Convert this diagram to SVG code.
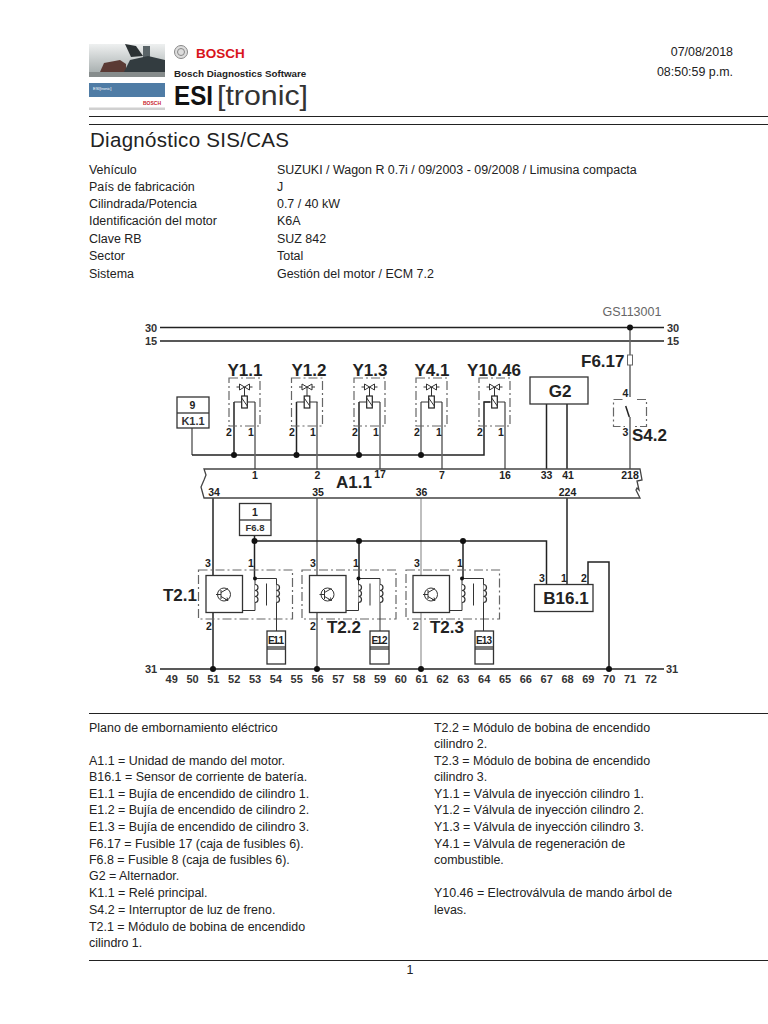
<svg xmlns="http://www.w3.org/2000/svg" xmlns:xlink="http://www.w3.org/1999/xlink" width="768" height="1024" viewBox="0 0 768 1024">
<style>
text{font-family:"Liberation Sans",Arial,sans-serif;fill:#222}
.t{font-size:12.45px}
.pin{font-size:10.5px;font-weight:bold;text-anchor:middle}
.num{font-size:11px;font-weight:bold;text-anchor:middle;fill:#333}
.big{font-size:17px;font-weight:bold;text-anchor:middle}
.w{fill:none;stroke:#222;stroke-width:1.5}
.g{fill:none;stroke:#666;stroke-width:1.5}
.lg{fill:none;stroke:#aaa;stroke-width:1.5}
.box{fill:#fff;stroke:#333;stroke-width:1.3}
.dash{fill:none;stroke:#666;stroke-width:1.2;stroke-dasharray:9 3 2 3}
.thin{fill:none;stroke:#333;stroke-width:1}
.dot{fill:#111}
.rule{stroke:#222;stroke-width:1}
</style>
<defs>
<linearGradient id="sky" x1="0" y1="0" x2="0" y2="1"><stop offset="0" stop-color="#eef0f0"/><stop offset="1" stop-color="#9ea6a6"/></linearGradient>
<g id="valve">
<rect x="-15.500" y="-9" width="31" height="48" class="dash"/>
<path d="M-8 0H-5M5 0H8M-5-3L0 0L-5 3ZM5-3L0 0L5 3ZM0 0V9" class="thin"/>
<rect x="-2.800" y="9" width="5.600" height="12" fill="#fff" stroke="#222" stroke-width="1.200"/>
<path d="M-2.800 11L2.800 19" class="thin"/>
<path d="M-2.800 15H-10.500M2.800 15H10.500" class="thin"/>
</g>
<g id="coil">
<rect x="0" y="0" width="36.500" height="37" class="box"/>
<circle cx="18" cy="19" r="6.500" class="thin"/>
<path d="M15 14.500V23.500M15 19H10M15 17L22 13M15 21L22 25M19 24L22 25L21 22" class="thin"/>
<path d="M36.500 35H49V3M49 3H70.500V55.500" class="thin" stroke-width="1.200"/>
<path d="M49 9a3 3 0 0 1 0 6a3 3 0 0 1 0 6a3 3 0 0 1 0 6M70.500 9a3 3 0 0 1 0 6a3 3 0 0 1 0 6a3 3 0 0 1 0 6" fill="#fff" stroke="#333" stroke-width="1.200"/>
<path d="M60.500 8V30" class="thin"/>
<circle cx="49" cy="3" r="2" class="dot"/>
</g>
</defs>

<g id="header">
<rect x="89" y="44" width="76" height="33" fill="url(#sky)"/>
<path d="M125 44L136 46L143 56L131 57Z" fill="#2c3234"/>
<rect x="143" y="46" width="7" height="26" fill="#5a6468"/>
<path d="M100 72L104 63L120 60L126 64V72Z" fill="#5a3a34"/>
<path d="M124 72L130 60L148 56L165 60V72Z" fill="#333c40"/>
<rect x="89" y="72" width="76" height="5" fill="#868c8c"/>
<rect x="89" y="83" width="76" height="14" fill="#4f7ca5"/>
<text x="93" y="90" font-size="4" style="fill:#fff">ESI[tronic]</text>
<text x="143" y="104.500" font-size="5" font-weight="bold" style="fill:#c8242c">BOSCH</text>
<rect x="89" y="107.500" width="76" height="2.500" fill="#d0d0d0"/>
<circle cx="181" cy="52" r="6.500" fill="#ddd" stroke="#888"/>
<circle cx="181" cy="52" r="3.500" fill="none" stroke="#888"/>
<text x="196" y="58" font-size="13.500" font-weight="bold" style="fill:#d8141c">BOSCH</text>
<text x="174" y="77" font-size="9.800" font-weight="bold">Bosch Diagnostics Software</text>
<text x="174" y="105" font-size="28" font-weight="bold" style="fill:#111" textLength="39" lengthAdjust="spacingAndGlyphs">ESI</text>
<text x="217" y="105" font-size="28" style="fill:#333" textLength="91" lengthAdjust="spacingAndGlyphs">[tronic]</text>
<text x="733" y="56" class="t" text-anchor="end">07/08/2018</text>
<text x="733" y="76" class="t" text-anchor="end">08:50:59 p.m.</text>
<line x1="89" y1="116.500" x2="768" y2="116.500" class="rule"/>
<line x1="89" y1="124.500" x2="768" y2="124.500" class="rule"/>
<text x="90" y="147" font-size="20.500" textLength="199">Diagnóstico SIS/CAS</text>
</g>

<g id="data">
<text x="89" y="174" class="t">Vehículo</text><text x="277" y="174" class="t">SUZUKI / Wagon R 0.7i / 09/2003 - 09/2008 / Limusina compacta</text>
<text x="89" y="191" class="t">País de fabricación</text><text x="277" y="191" class="t">J</text>
<text x="89" y="208" class="t">Cilindrada/Potencia</text><text x="277" y="208" class="t">0.7 / 40 kW</text>
<text x="89" y="225" class="t">Identificación del motor</text><text x="277" y="225" class="t">K6A</text>
<text x="89" y="243" class="t">Clave RB</text><text x="277" y="243" class="t">SUZ 842</text>
<text x="89" y="260" class="t">Sector</text><text x="277" y="260" class="t">Total</text>
<text x="89" y="278" class="t">Sistema</text><text x="277" y="278" class="t">Gestión del motor / ECM 7.2</text>
</g>

<g id="connectors">
<path d="M160 327.500H664M160 341H664" class="w"/>
<path d="M192 428V455" class="g"/>
<path d="M192 455H484V402H490" class="w"/>
<path d="M234 402V455M296.500 402V455M359 402V455" class="w"/>
<path d="M421 402V455" class="g"/>
<path d="M255 402V469M317 402V469M380 402V469M442 402V469M505 402V469" class="g"/>
<path d="M546.500 404V469M567 404V469" class="w"/>
<path d="M630 327.500V397M630 417V469" class="g"/>
<path d="M213 498V669" class="w"/>
<path d="M317 498V669" class="g"/>
<path d="M421 498V669" class="lg"/>
<path d="M567 498V585" class="w"/>
<path d="M254.500 536V578M359 541V578M463 541V578" class="w"/>
<path d="M254.500 541H546.500V585" class="w"/>
<path d="M588 585V562H609V669" class="w"/>
<path d="M160 669H664" class="w"/>
</g>

<g id="dots">
<circle cx="630" cy="327.500" r="3" class="dot"/>
<circle cx="234" cy="455" r="3" class="dot"/><circle cx="296.500" cy="455" r="3" class="dot"/><circle cx="359" cy="455" r="3" class="dot"/><circle cx="421" cy="455" r="3" class="dot"/>
<circle cx="254.500" cy="541" r="3" class="dot"/><circle cx="359" cy="541" r="3" class="dot"/><circle cx="463" cy="541" r="3" class="dot"/>
<circle cx="213" cy="669" r="3" class="dot"/><circle cx="317" cy="669" r="3" class="dot"/><circle cx="421" cy="669" r="3" class="dot"/><circle cx="609" cy="669" r="3" class="dot"/>
</g>

<g id="rails">
<text x="151" y="332" class="num">30</text><text x="151" y="345" class="num">15</text>
<text x="673" y="332" class="num">30</text><text x="673" y="345" class="num">15</text>
<text x="632" y="316" font-size="12.500" text-anchor="middle" style="fill:#666">GS113001</text>
</g>

<g id="K1.1"><rect x="177" y="397" width="32" height="31" class="box"/><line x1="177" y1="413" x2="209" y2="413" class="box"/><text x="192.500" y="409" class="pin">9</text><text x="193" y="425" font-size="11" text-anchor="middle" font-weight="bold" style="fill:#333">K1.1</text></g>

<g id="Y1.1"><use xlink:href="#valve" transform="translate(244.500 387)"/><text x="245" y="376" class="big">Y1.1</text><text x="229" y="436" class="pin">2</text><text x="251" y="436" class="pin">1</text></g>
<g id="Y1.2"><use xlink:href="#valve" transform="translate(307 387)"/><text x="309" y="376" class="big">Y1.2</text><text x="292" y="436" class="pin">2</text><text x="313" y="436" class="pin">1</text></g>
<g id="Y1.3"><use xlink:href="#valve" transform="translate(369.500 387)"/><text x="370" y="376" class="big">Y1.3</text><text x="355" y="436" class="pin">2</text><text x="376" y="436" class="pin">1</text></g>
<g id="Y4.1"><use xlink:href="#valve" transform="translate(431.500 387)"/><text x="432" y="376" class="big">Y4.1</text><text x="417" y="436" class="pin">2</text><text x="439" y="436" class="pin">1</text></g>
<g id="Y10.46"><use xlink:href="#valve" transform="translate(494.500 387)"/><text x="494" y="376" class="big">Y10.46</text><text x="480" y="436" class="pin">2</text><text x="501" y="436" class="pin">1</text></g>

<g id="G2"><rect x="530" y="377" width="58" height="27" class="box" stroke-width="1.500"/><text x="560" y="397" class="big">G2</text></g>

<g id="F6.17"><rect x="627.500" y="355" width="5" height="10" fill="#fff" stroke="#666"/><text x="581" y="367" font-size="17" font-weight="bold" style="fill:#222">F6.17</text></g>

<g id="S4.2">
<path d="M622.500 399.500H613.500V426.500H625M637 399.500H646.500V426.500H635" class="dash" stroke-dasharray="7 3 2 3"/>
<path d="M625.700 406L629.300 417" class="w" stroke-width="1.200"/>
<text x="625.500" y="397" class="pin">4</text><text x="625.500" y="436" class="pin">3</text>
<text x="632" y="441" font-size="17" font-weight="bold">S4.2</text>
</g>

<g id="A1.1">
<path d="M204 469H640L642 480L637 481L639 490L637 488L636 490L640 498H204L201 487L204 480L206 475Z" fill="#fff" stroke="#444" stroke-width="1.300"/>
<text x="354" y="488" class="big">A1.1</text>
<text x="255" y="479" class="pin">1</text><text x="317.500" y="479" class="pin">2</text><text x="380" y="478" class="pin">17</text><text x="442" y="479" class="pin">7</text><text x="505" y="479" class="pin">16</text><text x="546.500" y="479" class="pin">33</text><text x="568" y="479" class="pin">41</text><text x="630" y="479" class="pin">218</text>
<text x="214" y="496" class="pin">34</text><text x="318" y="496" class="pin">35</text><text x="421.500" y="496" class="pin">36</text><text x="567.500" y="496" class="pin">224</text>
</g>

<g id="F6.8"><rect x="239.500" y="503.500" width="31.500" height="32" class="box"/><line x1="239.500" y1="520" x2="271" y2="520" class="box"/><text x="255" y="516" class="pin">1</text><text x="255" y="531" font-size="9.500" font-weight="bold" text-anchor="middle" style="fill:#333">F6.8</text></g>

<g id="T2.1"><rect x="198.500" y="570" width="94" height="49" class="dash"/><use xlink:href="#coil" transform="translate(206 575.500)"/><text x="180" y="601" class="big" font-size="18">T2.1</text><text x="208" y="567" class="pin">3</text><text x="251" y="567" class="pin">1</text><text x="209" y="630" class="pin">2</text></g>
<g id="E1.1"><rect x="267" y="631" width="18.500" height="33" class="box"/><line x1="267" y1="647" x2="285.500" y2="647" class="box"/><line x1="267" y1="649" x2="285.500" y2="649" class="box"/><text x="276" y="644" font-size="10" font-weight="bold" text-anchor="middle" textLength="16" style="fill:#222">E1.1</text></g>

<g id="T2.2"><rect x="302" y="570" width="94" height="49" class="dash"/><use xlink:href="#coil" transform="translate(309.500 575.500)"/><text x="344" y="633" class="big" font-size="18">T2.2</text><text x="313" y="567" class="pin">3</text><text x="356" y="567" class="pin">1</text><text x="313" y="630" class="pin">2</text></g>
<g id="E1.2"><rect x="370" y="631" width="19" height="33" class="box"/><line x1="370" y1="647" x2="389" y2="647" class="box"/><line x1="370" y1="649" x2="389" y2="649" class="box"/><text x="379.500" y="644" font-size="10" font-weight="bold" text-anchor="middle" textLength="16" style="fill:#222">E1.2</text></g>

<g id="T2.3"><rect x="406" y="570" width="93.500" height="49" class="dash"/><use xlink:href="#coil" transform="translate(413 575.500)"/><text x="447" y="633" class="big" font-size="18">T2.3</text><text x="417" y="567" class="pin">3</text><text x="460" y="567" class="pin">1</text><text x="416" y="630" class="pin">2</text></g>
<g id="E13"><rect x="475" y="631" width="18.500" height="33" class="box"/><line x1="475" y1="647" x2="493.500" y2="647" class="box"/><line x1="475" y1="649" x2="493.500" y2="649" class="box"/><text x="484" y="644" font-size="10" font-weight="bold" text-anchor="middle" textLength="16" style="fill:#222">E13</text></g>

<g id="B16.1"><rect x="534.500" y="584.500" width="58.500" height="27" class="box" stroke-width="1.500"/><text x="566" y="604" class="big" font-size="17.500">B16.1</text><text x="542" y="582" class="pin">3</text><text x="564" y="582" class="pin">1</text><text x="584" y="582" class="pin">2</text></g>

<g id="scale">
<text x="171.700" y="683" class="num">49</text><text x="192.500" y="683" class="num">50</text><text x="213.300" y="683" class="num">51</text><text x="234.200" y="683" class="num">52</text><text x="255" y="683" class="num">53</text><text x="275.800" y="683" class="num">54</text><text x="296.700" y="683" class="num">55</text><text x="317.500" y="683" class="num">56</text><text x="338.300" y="683" class="num">57</text><text x="359.200" y="683" class="num">58</text><text x="380" y="683" class="num">59</text><text x="400.800" y="683" class="num">60</text><text x="421.700" y="683" class="num">61</text><text x="442.500" y="683" class="num">62</text><text x="463.300" y="683" class="num">63</text><text x="484.200" y="683" class="num">64</text><text x="505" y="683" class="num">65</text><text x="525.800" y="683" class="num">66</text><text x="546.700" y="683" class="num">67</text><text x="567.500" y="683" class="num">68</text><text x="588.300" y="683" class="num">69</text><text x="609.200" y="683" class="num">70</text><text x="630" y="683" class="num">71</text><text x="650.800" y="683" class="num">72</text>
<text x="151" y="673" class="num">31</text><text x="672" y="673" class="num">31</text>
</g>

<g id="legend">
<line x1="89" y1="713.500" x2="768" y2="713.500" class="rule"/>
<text x="89" y="732" class="t">Plano de embornamiento eléctrico</text>
<text x="89" y="765" class="t">A1.1 = Unidad de mando del motor.</text>
<text x="89" y="781" class="t">B16.1 = Sensor de corriente de batería.</text>
<text x="89" y="798" class="t">E1.1 = Bujía de encendido de cilindro 1.</text>
<text x="89" y="814" class="t">E1.2 = Bujía de encendido de cilindro 2.</text>
<text x="89" y="831" class="t">E1.3 = Bujía de encendido de cilindro 3.</text>
<text x="89" y="848" class="t">F6.17 = Fusible 17 (caja de fusibles 6).</text>
<text x="89" y="864" class="t">F6.8 = Fusible 8 (caja de fusibles 6).</text>
<text x="89" y="880" class="t">G2 = Alternador.</text>
<text x="89" y="897" class="t">K1.1 = Relé principal.</text>
<text x="89" y="914" class="t">S4.2 = Interruptor de luz de freno.</text>
<text x="89" y="931" class="t">T2.1 = Módulo de bobina de encendido</text>
<text x="89" y="947" class="t">cilindro 1.</text>
<text x="434" y="732" class="t">T2.2 = Módulo de bobina de encendido</text>
<text x="434" y="748" class="t">cilindro 2.</text>
<text x="434" y="765" class="t">T2.3 = Módulo de bobina de encendido</text>
<text x="434" y="781" class="t">cilindro 3.</text>
<text x="434" y="798" class="t">Y1.1 = Válvula de inyección cilindro 1.</text>
<text x="434" y="814" class="t">Y1.2 = Válvula de inyección cilindro 2.</text>
<text x="434" y="831" class="t">Y1.3 = Válvula de inyección cilindro 3.</text>
<text x="434" y="848" class="t">Y4.1 = Válvula de regeneración de</text>
<text x="434" y="864" class="t">combustible.</text>
<text x="434" y="897" class="t">Y10.46 = Electroválvula de mando árbol de</text>
<text x="434" y="914" class="t">levas.</text>
<line x1="89" y1="960.500" x2="768" y2="960.500" class="rule"/>
<text x="410" y="974" class="t" text-anchor="middle">1</text>
</g>
</svg>
